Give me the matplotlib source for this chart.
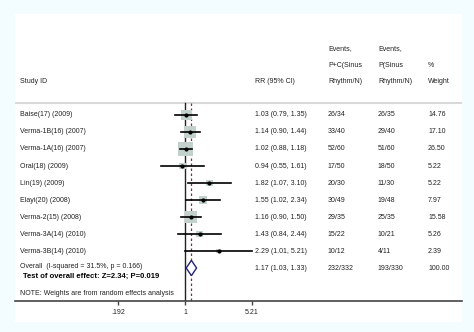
import numpy as np
import matplotlib.pyplot as plt
from matplotlib.patches import Rectangle
import matplotlib.transforms as mtransforms

plt.rcParams['font.family'] = ['Liberation Sans', 'DejaVu Sans']

studies = ["Baise(17) (2009)", "Verma-1B(16) (2007)", "Verma-1A(16) (2007)",
           "Oral(18) (2009)", "Lin(19) (2009)", "Elayi(20) (2008)",
           "Verma-2(15) (2008)", "Verma-3A(14) (2010)", "Verma-3B(14) (2010)"]
rr = [1.03, 1.14, 1.02, 0.94, 1.82, 1.55, 1.16, 1.43, 2.29]
lo = [0.79, 0.90, 0.88, 0.55, 1.07, 1.02, 0.90, 0.84, 1.01]
hi = [1.35, 1.44, 1.18, 1.61, 3.10, 2.34, 1.50, 2.44, 5.21]
ev_pc = ["26/34", "33/40", "52/60", "17/50", "20/30", "30/49", "29/35", "15/22", "10/12"]
ev_p = ["26/35", "29/40", "51/60", "18/50", "11/30", "19/48", "25/35", "10/21", "4/11"]
weight = [14.76, 17.10, 26.50, 5.22, 5.22, 7.97, 15.58, 5.26, 2.39]

overall_rr, overall_lo, overall_hi = 1.17, 1.03, 1.33
overall_pc, overall_p, overall_w = "232/332", "193/330", 100.00
xticks = [0.192, 1, 5.21]
xticklabels = [".192", "1", "5.21"]

fig = plt.figure(figsize=(4.74, 3.32), dpi=100, facecolor='#f3fdff')
# white plot region behind the axes
fig.patches.append(Rectangle((15/474, 10/332), 447/474, 308/332,
                             transform=fig.transFigure, facecolor='white',
                             edgecolor='none', zorder=-10))

ax = fig.add_axes([15/474, 31/332, 447/474, 287/332])
ax.set_facecolor('none')
ax.set_xscale('log')
ax.set_xlim(0.0152, 917)
ax.set_ylim(10.94, -5.94)
for s in ['top', 'right', 'left']:
    ax.spines[s].set_visible(False)
ax.spines['bottom'].set_color('#444444')
ax.spines['bottom'].set_linewidth(1.2)
ax.set_yticks([])
ax.set_xticks(xticks)
ax.set_xticklabels(xticklabels, fontsize=5, color='#222222')
ax.xaxis.set_minor_locator(plt.NullLocator())
ax.tick_params(axis='x', length=3, width=1, color='#444444', pad=3)

tr = mtransforms.blended_transform_factory(ax.transAxes, ax.transData)
fs = 5
tc = '#222222'

# header
ax.axhline(-0.72, color='#d9d9d9', lw=1.5)
ax.text(0.011, -1.95, "Study ID", transform=tr, fontsize=fs, color=tc, va='center')
ax.text(0.538, -1.95, "RR (95% CI)", transform=tr, fontsize=fs, color=tc, va='center')
for x, lines in [(0.700, ["Events,", "P+C(Sinus", "Rhythm/N)"]),
                 (0.812, ["Events,", "P(Sinus", "Rhythm/N)"]),
                 (0.924, ["", "%", "Weight"])]:
    for k, t in enumerate(lines):
        ax.text(x, -3.92 + k * 0.985, t, transform=tr, fontsize=fs, color=tc, va='center')

# reference lines
ax.plot([1, 1], [-0.72, 10.94], color='#222222', lw=1, zorder=2)
ax.plot([overall_rr, overall_rr], [-0.72, 10.94], color='#9b2335', lw=0.9,
        ls=(0, (2, 2)), zorder=2)

for i in range(len(studies)):
    ax.plot([lo[i], hi[i]], [i, i], color='black', lw=1.2, zorder=3)
    ax.scatter(rr[i], i, s=4.2 * weight[i], marker='s', color='#c3d1cc',
               edgecolor='none', zorder=2.5)
    ax.plot(rr[i], i, marker='o', ms=2.0, color='black', zorder=4)
    ax.text(0.011, i, studies[i], transform=tr, fontsize=fs, color=tc, va='center')
    ax.text(0.538, i, f"{rr[i]:.2f} ({lo[i]:.2f}, {hi[i]:.2f})", transform=tr,
            fontsize=fs, color=tc, va='center')
    ax.text(0.700, i, ev_pc[i], transform=tr, fontsize=fs, color=tc, va='center')
    ax.text(0.812, i, ev_p[i], transform=tr, fontsize=fs, color=tc, va='center')
    ax.text(0.924, i, f"{weight[i]:.2f}", transform=tr, fontsize=fs, color=tc, va='center')

# pooled estimate diamond
r = 9
ax.fill([overall_lo, overall_rr, overall_hi, overall_rr], [r, r - 0.45, r, r + 0.45],
        facecolor='white', edgecolor='#23237a', lw=1, zorder=5)
ax.text(0.011, r - 0.1, "Overall  (I-squared = 31.5%, p = 0.166)", transform=tr,
        fontsize=fs, color=tc, va='center')
ax.text(0.018, r + 0.48, "Test of overall effect: Z=2.34; P=0.019", transform=tr,
        fontsize=5.5, color='black', va='center', fontweight='bold')
ax.text(0.538, r, f"{overall_rr:.2f} ({overall_lo:.2f}, {overall_hi:.2f})",
        transform=tr, fontsize=fs, color=tc, va='center')
ax.text(0.700, r, overall_pc, transform=tr, fontsize=fs, color=tc, va='center')
ax.text(0.812, r, overall_p, transform=tr, fontsize=fs, color=tc, va='center')
ax.text(0.924, r, f"{overall_w:.2f}", transform=tr, fontsize=fs, color=tc, va='center')
ax.text(0.011, 10.5, "NOTE: Weights are from random effects analysis", transform=tr,
        fontsize=fs, color=tc, va='center')

fig.savefig('out.png', dpi=100, facecolor=fig.get_facecolor())
